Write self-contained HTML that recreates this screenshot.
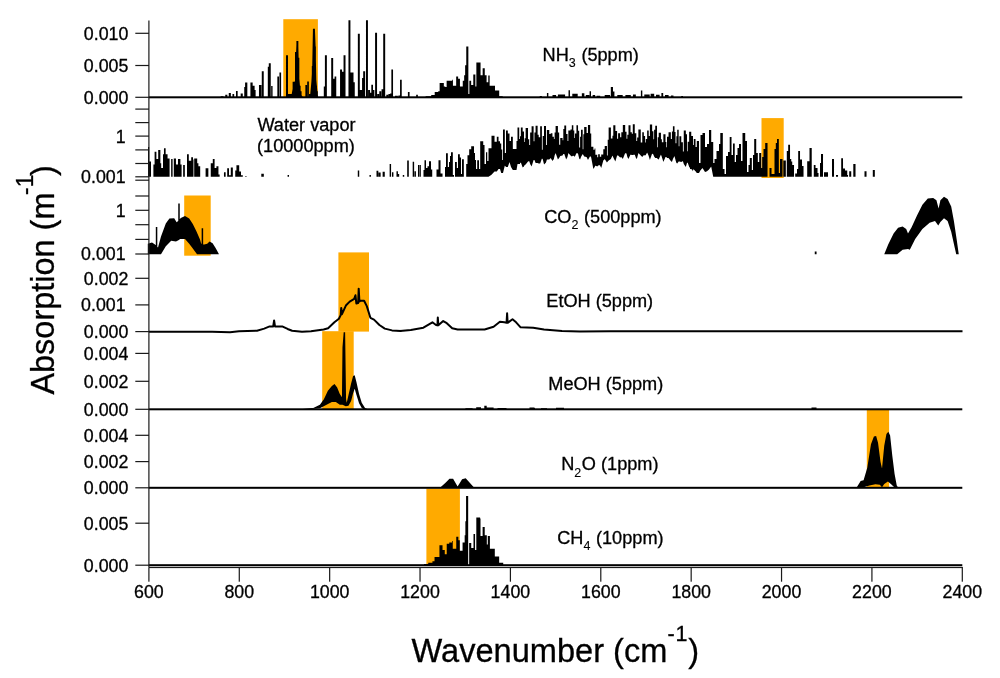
<!DOCTYPE html>
<html><head><meta charset="utf-8"><title>Absorption spectra</title>
<style>
html,body{margin:0;padding:0;background:#fff;}
svg{display:block;}
text{font-family:"Liberation Sans",Arial,sans-serif;fill:#000;stroke:#000;stroke-width:0.3px;}
</style></head><body>
<svg width="1000" height="678" viewBox="0 0 1000 678">
<rect width="1000" height="678" fill="#fff"/>
<rect x="283.3" y="19.2" width="34.6" height="78.3" fill="#FFAA00"/>
<rect x="761.5" y="118.1" width="22.2" height="59.9" fill="#FFAA00"/>
<rect x="184.2" y="195.5" width="26.5" height="60.2" fill="#FFAA00"/>
<rect x="338.4" y="252.4" width="30.6" height="79.2" fill="#FFAA00"/>
<rect x="322.2" y="331.2" width="31.5" height="78.0" fill="#FFAA00"/>
<rect x="866.8" y="410.0" width="22.3" height="78.0" fill="#FFAA00"/>
<rect x="426.4" y="488.5" width="33.5" height="75.8" fill="#FFAA00"/>
<path d="M220.70 97.30V96.21h2.80V97.30zM225.26 97.30V94.81h2.10V97.30zM228.76 97.30V92.99h2.10V97.30zM232.48 97.30V94.11h1.68V97.30zM235.98 97.30V90.89h1.68V97.30zM240.68 97.30V93.41h2.10V97.30zM245.09 97.30V82.62h2.24V97.30zM244.25 97.30V87.10h1.40V97.30zM250.42 97.30V82.62h2.24V97.30zM252.66 97.30V85.70h1.96V97.30zM254.49 97.30V89.91h1.12V97.30zM258.97 97.30V85.00h2.52V97.30zM261.78 97.30V71.26h1.96V97.30zM268.79 97.30V63.27h1.96V97.30zM267.80 97.30V66.78h1.12V97.30zM271.17 97.30V85.98h1.40V97.30zM277.34 97.30V76.59h1.68V97.30zM279.44 97.30V72.38h1.68V97.30zM286.03 97.30V55.14h1.96V97.30zM287.99 97.30V94.11h4.21V97.30zM292.62 97.30V81.78h1.96V97.30zM295.00 97.30V52.06h1.40V97.30zM296.40 97.30V41.12h1.96V97.30zM298.22 97.30V57.66h1.12V97.30zM299.21 97.30V85.70h1.40V97.30zM300.47 97.30V91.31h1.12V97.30zM305.37 97.30V85.00h1.68V97.30zM307.20 97.30V81.50h1.68V97.30zM309.02 97.30V94.11h2.80V97.30zM311.82 97.30V66.07h1.40V97.30zM312.94 97.30V28.64h1.96V97.30zM314.77 97.30V46.45h1.12V97.30zM315.89 97.30V85.70h1.12V97.30zM317.01 97.30V91.31h0.84V97.30zM291.21 97.30L291.21 96.64L293.46 84.30L295.42 80.09L296.12 52.06L296.54 41.12L298.22 41.12L298.64 57.66L299.21 77.29L300.05 86.82L301.31 94.53L302.71 96.92L302.71 97.30zM310.00 97.30L310.00 96.92L311.40 81.50L312.24 66.07L312.94 28.64L314.91 28.64L315.61 46.45L316.31 80.09L317.29 90.61L318.13 96.92L318.13 97.30zM323.79 97.30V86.40h1.40V97.30zM324.91 97.30V55.14h1.96V97.30zM331.21 97.30V58.08h1.96V97.30zM333.18 97.30V78.69h1.68V97.30zM334.58 97.30V76.59h1.68V97.30zM340.05 97.30V69.58h1.96V97.30zM342.01 97.30V71.68h1.68V97.30zM343.55 97.30V55.14h1.96V97.30zM348.46 97.30V20.23h1.96V97.30zM350.42 97.30V72.38h3.08V97.30zM353.36 97.30V82.20h1.40V97.30zM357.85 97.30V33.83h1.96V97.30zM359.81 97.30V89.91h2.24V97.30zM362.06 97.30V77.99h1.40V97.30zM363.18 97.30V71.26h1.96V97.30zM365.98 97.30V20.23h1.96V97.30zM368.08 97.30V89.91h1.96V97.30zM370.05 97.30V92.71h1.40V97.30zM371.31 97.30V84.72h1.68V97.30zM372.99 97.30V89.91h1.40V97.30zM375.09 97.30V32.71h1.96V97.30zM377.20 97.30V94.11h1.96V97.30zM379.30 97.30V91.31h1.96V97.30zM381.54 97.30V89.21h1.68V97.30zM383.22 97.30V33.83h1.96V97.30zM386.31 97.30V94.81h1.96V97.30zM388.41 97.30V94.11h1.96V97.30zM391.36 97.30V69.58h1.68V97.30zM390.09 97.30V93.41h1.40V97.30zM395.00 97.30V95.79h2.80V97.30zM400.05 97.30V79.67h1.68V97.30zM398.36 97.30V95.51h1.68V97.30zM407.90 97.30V92.01h1.68V97.30zM416.17 97.30V94.81h1.68V97.30zM425.61 97.30V96.21H431.21V95.09H434.72V92.01H438.22V91.31H439.63V82.90H441.73V82.90H443.83V86.40H445.23V87.10H446.64V80.79H452.24V79.67H452.94V85.70H455.75V85.70H456.17V76.59H457.85V76.59H458.13V78.69H459.67V78.69H459.95V86.40H462.06V86.40H462.76V80.79H464.16V75.19H465.14V65.37H466.26V46.45H467.94V46.45H468.36V94.11H469.35V80.79H470.75V80.79H471.17V85.00H472.99V85.00H473.27V74.49H474.95V74.49H475.37V86.40H476.36V62.57H480.28V62.57H480.56V75.19H482.38V75.19H482.66V68.18H484.49V68.18H484.77V75.19H486.17V75.19H486.59V82.20H487.99V82.20H488.27V75.47H489.39V75.47H489.67V85.70H493.60V85.70H495.00V90.61H498.50V90.61H499.21V96.21H502.71V97.30zM539.72 97.30V96.00h2.16V97.30zM546.92 97.30V92.94h1.44V97.30zM552.50 97.30V95.10h3.60V97.30zM557.90 97.30V94.56h7.20V97.30zM568.52 97.30V90.24h1.44V97.30zM572.30 97.30V93.84h5.40V97.30zM581.84 97.30V93.30h2.52V97.30zM585.80 97.30V95.10h3.60V97.30zM589.58 97.30V91.14h1.44V97.30zM592.64 97.30V95.10h2.52V97.30zM596.60 97.30V95.64h3.60V97.30zM604.70 97.30V95.10h5.40V97.30zM610.82 97.30V87.00h2.16V97.30zM611.90 97.30V91.50h2.52V97.30zM617.30 97.30V95.10h5.40V97.30zM625.40 97.30V95.10h5.40V97.30zM632.96 97.30V94.56h2.88V97.30zM640.88 97.30V90.60h1.44V97.30zM644.30 97.30V94.56h5.40V97.30zM650.60 97.30V93.84h3.60V97.30zM656.00 97.30V94.74h3.60V97.30zM661.40 97.30V92.94h1.80V97.30zM665.00 97.30V95.10h3.60V97.30zM670.94 97.30V95.46h2.52V97.30zM681.20 97.30V96.00h1.80V97.30zM148.00 176.80V147.00H149.20V161.40H151.00V176.80H153.40V164.40H154.60V151.80H156.40V159.00H158.20V150.00H160.36V163.20H161.20V168.00H163.00V154.20H163.96V148.20H165.64V154.20H167.56V158.40H169.60V176.80H171.16V159.00H172.60V176.80H173.80V158.40H175.96V164.40H178.00V159.00H180.40V164.40H181.60V176.80H183.16V165.00H184.84V176.80H187.00V154.20H188.80V160.80H191.20V157.20H193.00V159.60H193.48V176.80H194.20V158.40H197.20V163.20H198.40V166.20H200.20V176.80H205.60V168.24H208.36V176.80H210.76V163.20H212.80V159.00H214.60V168.00H216.40V166.20H218.44V174.60H219.64V176.80H223.96V172.20H225.64V176.80H227.20V168.24H229.00V175.20H230.80V167.40H232.84V176.80H235.24V170.40H236.44V165.36H239.20V171.60H241.00V175.20H242.80V176.80H245.32V175.92H246.52V176.80zM261.30 176.80V173.64h2.52V176.80zM287.58 176.80V174.90h1.44V176.80zM357.78 176.80V170.40h1.44V176.80zM369.48 176.80V174.90h1.44V176.80zM376.50 176.80V170.76h1.80V176.80zM378.48 176.80V172.56h2.16V176.80zM382.62 176.80V171.66h2.16V176.80zM389.64 176.80V164.10h1.44V176.80zM391.98 176.80V172.20h1.44V176.80zM396.48 176.80V171.30h1.44V176.80zM397.74 176.80V174.00h1.44V176.80zM402.78 176.80V174.90h1.44V176.80zM407.19 176.80V160.50h1.62V176.80zM412.68 176.80V161.76h1.44V176.80zM414.48 176.80V171.30h1.44V176.80zM417.99 176.80V165.00h1.62V176.80zM520.00 163.00V136.26H520.91V162.50zM520.86 162.50V127.59H522.67V167.50zM522.62 167.50V131.42H523.98V166.50zM523.93 166.50V142.01H524.70V165.00zM524.65 165.00V138.16H525.68V164.50zM525.63 164.50V128.06H528.03V161.50zM527.98 161.50V139.34H529.23V161.00zM529.18 161.00V145.07H530.18V164.00zM530.13 164.00V132.41H531.64V166.50zM531.59 166.50V126.29H533.62V160.00zM533.57 160.00V141.32H534.48V160.00zM534.43 160.00V132.47H535.62V163.00zM535.57 163.00V125.85H537.61V163.00zM537.56 163.00V134.77H538.71V163.50zM538.66 163.50V137.25H540.21V163.50zM540.16 163.50V126.29H541.90V158.50zM541.85 158.50V149.69H542.72V159.00zM542.67 159.00V135.95H544.06V164.50zM544.01 164.50V125.98H546.03V162.50zM545.98 162.50V144.93H546.94V159.50zM546.89 159.50V130.07H549.28V159.50zM549.23 159.50V133.91H550.75V158.00zM550.70 158.00V133.31H552.43V161.00zM552.38 161.00V136.75H553.90V159.00zM553.85 159.00V138.94H554.65V155.50zM554.60 155.50V132.38H555.65V153.00zM555.60 153.00V125.99H557.92V159.50zM557.87 159.50V132.38H559.17V158.00zM559.12 158.00V144.77H560.30V156.00zM560.25 156.00V138.08H562.59V155.50zM562.54 155.50V140.13H563.34V154.00zM563.29 154.00V128.99H564.35V154.00zM564.30 154.00V125.47H566.17V159.50zM566.12 159.50V133.93H567.53V157.00zM567.48 157.00V140.94H568.38V153.00zM568.33 153.00V130.42H570.56V155.50zM570.51 155.50V129.41H571.87V156.50zM571.82 156.50V125.29H573.33V155.50zM573.28 155.50V130.45H574.29V156.50zM574.24 156.50V138.05H574.99V156.50zM574.94 156.50V133.49H576.49V153.00zM576.44 153.00V125.20H578.04V153.50zM577.99 153.50V130.69H579.19V158.50zM579.14 158.50V147.53H580.14V159.50zM580.09 159.50V136.70H581.03V157.00zM580.98 157.00V129.77H582.69V154.00zM582.64 154.00V149.16H583.40V155.00zM583.35 155.00V134.36H584.22V156.50zM584.17 156.50V127.02H586.60V157.00zM586.55 157.00V132.90H588.02V160.00zM587.97 160.00V125.04H590.20V156.00zM590.15 156.00V133.55H591.22V157.50zM591.17 157.50V146.86H593.36V169.00zM593.31 169.00V149.83H594.68V167.00zM594.63 167.00V148.39H595.38V165.50zM595.33 165.50V154.64H597.23V166.50zM597.18 166.50V157.26H598.21V165.50zM598.16 165.50V154.34H599.82V165.00zM599.77 165.00V156.76H601.26V168.00zM601.21 168.00V154.58H603.32V160.50zM603.27 160.50V149.29H604.75V159.00zM604.70 159.00V145.95H606.95V162.50zM606.90 162.50V155.42H607.77V161.50zM607.72 161.50V139.75H608.69V160.50zM608.64 160.50V127.61H610.90V159.00zM610.85 159.00V138.56H612.52V155.50zM612.47 155.50V135.82H613.34V157.50zM613.29 157.50V125.18H615.38V161.50zM615.33 161.50V130.97H617.12V155.50zM617.07 155.50V138.80H618.15V155.50zM618.10 155.50V133.36H620.14V157.50zM620.09 157.50V137.27H621.36V157.00zM621.31 157.00V132.14H622.88V159.00zM622.83 159.00V125.10H625.20V153.00zM625.15 153.00V131.75H626.53V153.50zM626.48 153.50V138.87H627.36V157.00zM627.31 157.00V134.65H628.54V159.00zM628.49 159.00V125.24H630.50V154.50zM630.45 154.50V132.17H631.82V155.00zM631.77 155.00V133.65H632.84V155.00zM632.79 155.00V124.30H634.75V154.50zM634.70 154.50V133.17H636.31V159.00zM636.26 159.00V140.93H637.19V158.00zM637.14 158.00V137.58H638.42V153.00zM638.37 153.00V129.50H640.76V155.50zM640.71 155.50V142.57H642.31V157.00zM642.26 157.00V132.26H643.85V155.00zM643.80 155.00V136.03H645.09V155.50zM645.04 155.50V142.58H645.81V155.00zM645.76 155.00V139.08H647.19V152.50zM647.14 152.50V130.40H648.73V156.00zM648.68 156.00V135.96H649.92V160.00zM649.87 160.00V124.61H652.15V153.50zM652.10 153.50V131.24H653.38V154.50zM653.33 154.50V139.30H654.14V156.50zM654.09 156.50V129.71H655.29V158.00zM655.24 158.00V125.67H657.03V158.00zM656.98 158.00V147.21H657.75V159.00zM657.70 159.00V137.24H658.76V159.50zM658.71 159.50V132.76H660.94V154.50zM660.89 154.50V139.16H661.87V157.00zM661.82 157.00V142.32H663.40V162.00zM663.35 162.00V134.21H665.50V157.00zM665.45 157.00V141.88H666.36V157.00zM666.31 157.00V147.29H667.08V158.00zM667.03 158.00V136.65H668.57V158.00zM668.52 158.00V132.24H670.83V161.00zM670.78 161.00V139.11H671.97V162.00zM671.92 162.00V131.40H672.96V159.00zM672.91 159.00V126.18H674.52V156.00zM674.47 156.00V132.02H675.52V160.00zM675.47 160.00V143.22H676.45V163.00zM676.40 163.00V136.14H677.26V163.50zM677.21 163.50V129.67H678.68V161.50zM678.63 161.50V146.28H679.44V161.50zM679.39 161.50V136.19H681.27V162.00zM681.22 162.00V142.37H682.90V161.00zM682.85 161.00V151.61H683.81V164.00zM683.76 164.00V130.41H685.85V167.00zM685.80 167.00V134.27H686.99V163.00zM686.94 163.00V151.21H687.71V162.50zM687.66 162.50V141.70H689.19V167.00zM689.14 167.00V131.80H691.26V169.00zM691.21 169.00V136.70H692.30V170.00zM692.25 170.00V148.03H693.05V171.50zM690.00 169.00V136.00H693.03V169.30zM693.00 169.30V145.00H693.83V169.38zM693.80 169.38V139.00H695.53V171.25zM695.50 171.25V147.00H696.83V173.00zM696.80 173.00V141.00H699.03V173.00zM699.00 173.00V163.00H700.53V170.25zM700.50 170.25V135.00H702.53V167.88zM702.50 167.88V133.00H705.03V172.00zM705.00 172.00V147.00H707.03V171.33zM707.00 171.33V144.00H709.03V169.62zM709.00 169.62V130.00H711.23V166.60zM711.20 166.60V142.00H713.23V176.70zM713.20 176.70V163.00H714.53V176.70zM714.50 176.70V159.00H716.53V176.70zM716.50 176.70V151.00H719.03V176.70zM719.00 176.70V144.00H720.33V176.70zM720.30 176.70V133.00H722.83V176.70zM722.80 176.70V169.00H724.53V176.70zM724.50 176.70V174.00H726.03V176.70zM726.00 176.70V156.00H728.03V176.70zM728.00 176.70V152.00H729.73V176.70zM729.70 176.70V137.00H731.53V176.70zM731.50 176.70V155.00H733.03V176.70zM733.00 176.70V143.50H734.73V176.70zM734.70 176.70V162.00H736.03V176.70zM736.00 176.70V155.00H737.53V176.70zM737.50 176.70V148.00H739.03V176.70zM739.00 176.70V144.00H741.03V176.70zM741.00 176.70V161.00H742.53V176.70zM742.50 176.70V133.00H745.23V176.70zM745.20 176.70V141.00H747.03V176.70zM747.00 176.70V172.00H748.53V176.70zM748.50 176.70V165.00H749.83V176.70zM749.80 176.70V158.00H751.83V176.70zM751.80 176.70V170.00H753.03V176.70zM753.00 176.70V155.00H754.23V176.70zM754.20 176.70V139.00H756.23V176.70zM756.20 176.70V153.00H757.83V176.70zM757.80 176.70V162.00H759.23V176.70zM759.20 176.70V153.00H761.23V176.70zM761.20 176.70V168.00H762.23V176.70zM762.20 176.70V157.00H763.53V176.70zM763.50 176.70V149.00H765.23V176.70zM765.20 176.70V143.00H767.53V176.70zM769.50 176.70V168.00H771.53V176.70zM771.50 176.70V174.00H774.53V176.70zM774.50 176.70V149.00H775.83V176.70zM775.80 176.70V143.00H777.03V176.70zM777.00 176.70V139.00H778.83V176.70zM778.80 176.70V173.00H780.03V176.70zM780.00 176.70V159.00H782.53V176.70zM783.30 176.70V160.50H785.83V176.70zM786.80 176.70V151.00H788.23V176.70zM788.20 176.70V144.80H790.03V176.70zM790.00 176.70V159.00H791.23V176.70zM791.20 176.70V161.50H792.23V176.70zM792.20 176.70V165.00H794.03V176.70zM795.20 176.70V173.50H797.03V176.70zM797.00 176.70V169.00H798.23V176.70zM798.20 176.70V151.00H800.03V176.70zM800.00 176.70V159.50H802.03V176.70zM802.00 176.70V166.00H803.53V176.70zM807.20 176.70V161.20H809.53V176.70zM809.50 176.70V148.00H811.73V176.70zM813.80 176.70V165.00H815.53V176.70zM815.50 176.70V168.00H817.53V176.70zM817.50 176.70V173.00H818.53V176.70zM820.00 176.70V163.00H821.03V176.70zM821.00 176.70V154.00H823.03V176.70zM824.00 176.70V172.20H828.03V176.70zM832.00 176.70V159.00H834.03V176.70zM836.00 176.70V175.00H838.03V176.70zM841.20 176.70V158.20H843.03V176.70zM843.00 176.70V168.50H845.03V176.70zM845.00 176.70V170.50H847.23V176.70zM847.20 176.70V175.00H848.03V176.70zM849.20 176.70V171.20H851.23V176.70zM853.30 176.70V164.00H855.53V176.70zM864.50 176.70V171.20H866.53V176.70zM872.80 176.70V170.00H874.83V176.70zM420.00 176.70V165.00H420.83V176.70zM423.50 176.70V170.00H424.53V176.70zM424.50 176.70V160.20H426.03V176.70zM426.00 176.70V168.00H427.53V176.70zM427.50 176.70V166.20H429.03V176.70zM429.00 176.70V161.20H431.03V176.70zM431.00 176.70V169.50H432.23V176.70zM436.50 176.70V169.50H438.53V176.70zM438.50 176.70V160.20H440.53V176.70zM440.50 176.70V173.50H442.53V176.70zM445.00 176.70V167.00H446.03V176.70zM446.00 176.70V153.20H447.83V176.70zM447.80 176.70V167.00H449.03V176.70zM449.00 176.70V162.00H450.03V176.70zM450.00 176.70V156.00H451.03V176.70zM451.00 176.70V152.20H452.83V176.70zM452.80 176.70V175.00H454.03V176.70zM455.00 176.70V162.00H456.83V176.70zM456.80 176.70V168.00H458.03V176.70zM458.00 176.70V154.20H459.83V176.70zM459.80 176.70V157.50H461.03V176.70zM461.00 176.70V174.00H462.03V176.70zM462.00 176.70V159.20H463.83V176.70zM466.20 176.70V164.00H467.53V176.70zM467.50 176.70V155.20H469.23V176.70zM469.20 176.70V149.20H471.23V176.70zM471.20 176.70V146.20H474.03V176.70zM474.00 176.70V153.00H475.03V176.70zM475.00 176.70V160.00H476.03V176.70zM476.00 176.70V169.00H477.23V176.70zM477.20 176.70V160.20H479.03V176.70zM479.00 176.70V169.00H480.23V176.70zM480.20 176.70V141.20H483.23V176.70zM483.20 176.70V145.00H484.53V176.70zM484.50 176.70V164.00H486.03V176.70zM486.00 176.70V152.20H487.23V176.70zM487.20 176.70V161.00H488.53V176.70zM488.50 176.70V148.20H491.53V174.85zM491.50 174.85V135.80H494.53V171.50zM494.50 171.50V141.80H496.83V171.50zM496.80 171.50V136.80H498.53V169.00zM498.50 169.00V141.20H500.03V169.00zM500.00 169.00V143.50H501.23V173.00zM501.20 173.00V149.50H502.23V173.00zM502.20 173.00V160.00H503.03V173.00zM503.00 173.00V129.50H504.83V165.45zM504.80 165.45V153.00H506.03V167.00zM506.00 167.00V130.50H507.83V167.00zM507.80 167.00V133.50H509.53V162.00zM509.50 162.00V141.00H511.03V167.00zM511.00 167.00V136.80H512.83V170.00zM512.80 170.00V149.00H516.53V170.00zM516.50 170.00V141.00H517.53V164.00zM517.50 164.00V127.50H519.23V164.00zM519.20 164.00V139.00H520.03V164.00zM147.80 243.80L152.00 242.60L155.00 244.40L158.00 247.40L161.00 236.60L165.80 223.40L169.40 218.60L174.20 218.36L176.60 222.20L178.16 221.00L180.80 218.00L185.00 215.96L189.20 218.60L192.80 224.00L196.40 231.20L200.00 239.60L201.20 243.80L204.20 244.40L207.20 243.80L209.60 241.40L212.60 243.20L215.60 248.00L218.60 253.40L218.96 254.60L218.96 254.36L197.00 254.36L192.80 248.60L189.20 243.80L185.00 239.00L180.20 239.00L178.40 240.20L176.00 241.40L171.20 240.80L165.80 246.20L161.00 254.36L147.80 254.36zM155.81 248.60V227.00h1.5V248.60zM178.25 239.60V203.60h1.5V239.60zM201.65 246.20V228.20h1.5V246.20zM884.24 254.30L888.20 244.40L893.60 233.60L898.10 227.84L902.60 226.40L906.20 229.10L908.00 233.60L911.60 227.30L917.00 215.60L922.40 204.80L927.80 198.50L933.20 197.96L936.44 200.30L938.60 208.40L940.40 200.30L944.00 196.70L947.60 199.04L951.20 206.60L953.90 221.00L956.60 239.00L958.76 254.30L956.24 254.30L954.80 248.00L951.20 231.80L947.60 221.00L944.00 218.30L940.40 221.90L938.24 225.50L935.00 221.00L929.60 222.80L922.40 229.10L915.20 239.00L909.80 249.80L908.00 248.90L902.60 249.80L897.20 254.30L884.24 254.30zM814.76 254.30V251.60h1.80V254.30zM300.00 409.29L313.27 407.96L319.91 404.65L323.89 399.34L327.88 390.71L331.86 386.06L334.51 384.07L337.17 387.39L339.82 394.03L341.95 397.35L342.48 347.57L343.67 332.30L345.13 332.30L346.06 399.34L346.73 402.65L348.45 395.35L351.11 383.41L353.10 376.11L354.69 375.18L356.42 382.08L359.07 394.03L361.73 402.65L365.04 407.96L369.03 409.69L369.03 410.09L365.04 409.96L361.73 407.96L359.07 403.32L356.42 394.69L354.69 388.72L353.10 393.36L351.11 400.93L348.45 405.71L345.80 406.24L342.48 404.65L339.82 404.65L335.84 401.99L331.86 401.99L326.55 404.65L319.91 408.36L300.00 409.96zM465.40 409.30V408.20h7.20V409.30zM476.20 409.30V407.30h4.80V409.30zM484.30 409.30V405.80h2.40V409.30zM486.40 409.30V407.60h7.20V409.30zM497.50 409.30V408.05h9.00V409.30zM532.00 409.30V407.90h3.00V409.30zM541.00 409.30V408.20h6.00V409.30zM529.50 409.30V407.50h5.00V409.30zM556.00 409.30V407.80h8.00V409.30zM811.50 409.30V407.50h5.00V409.30zM440.50 487.80L440.50 487.16L445.00 483.20L449.50 478.70L453.10 478.70L457.60 486.44L462.10 479.24L465.70 478.16L469.30 482.30L473.80 487.16L473.80 487.80zM856.95 486.98L860.64 481.08L863.59 480.34L867.27 467.81L870.96 444.23L873.91 436.56L876.12 436.12L878.03 442.75L880.54 461.92L882.01 468.55L884.23 445.70L886.44 433.91L888.35 431.70L890.12 435.38L892.33 456.02L894.55 473.71L896.76 485.50L898.23 487.71L898.23 488.01L894.55 487.57L890.86 484.03L887.91 481.38L884.23 484.03L882.01 487.27L879.80 484.77L875.38 484.32L869.48 485.50L863.59 487.27L856.95 487.86zM424.02 565.20V564.11H428.22V562.71H432.43V561.31H434.53V557.10H438.74V557.10H439.44V545.19H441.96V545.19H442.52V550.09H444.35V550.09H444.77V554.30H446.17V554.30H446.73V543.79H449.25V542.38H452.06V540.98H452.76V548.69H455.56V548.69H456.26V536.78H457.94V536.78H458.36V540.28H459.35V540.28H459.77V550.79H461.87V550.79H462.57V542.38H463.97V542.38H464.67V535.37H465.37V521.36H466.07V496.12H467.76V496.12H468.18V565.20H469.16V543.08H470.98V543.08H471.26V547.99H473.08V547.99H473.50V533.97H474.77V533.97H475.05V550.09H475.89V550.09H476.31V517.57H480.09V518.55H480.51V536.07H482.20V536.07H482.62V526.96H484.30V526.96H484.72V535.37H486.40V535.37H486.82V544.49H487.80V536.07H489.63V536.07H489.91V548.69H494.11V548.69H494.81V556.40H498.60V556.40H499.16V562.71H502.52V562.71H503.22V565.20z" fill="#000"/>
<path d="M149.00 331.84L212.00 331.84L230.00 332.20L239.00 331.30L257.00 330.76L264.20 328.60L269.60 326.44L273.20 326.44L274.10 320.50L275.00 326.44L282.20 326.44L287.60 328.96L292.10 330.76L302.00 331.84L311.00 331.30L323.60 329.50L328.10 328.24L334.40 322.30L338.90 318.70L340.70 315.10L341.24 307.90L341.96 314.20L346.10 305.20L349.70 301.60L354.20 298.90L355.46 295.30L356.36 303.40L358.16 303.04L358.70 288.64L359.42 301.60L360.50 300.70L364.10 300.70L366.80 306.10L370.40 317.80L374.00 319.60L379.40 325.00L384.80 328.60L392.00 330.40L401.00 330.94L400.00 330.94L410.80 330.04L423.40 327.70L432.40 322.30L436.00 325.00L437.44 325.36L437.80 317.44L438.34 325.36L443.20 321.04L446.80 323.20L452.20 328.24L457.60 329.50L484.60 329.50L493.60 326.80L499.90 321.76L504.40 322.30L506.56 322.84L507.10 313.30L507.64 322.84L512.50 319.24L516.10 322.30L520.60 327.34L533.20 327.70L544.00 329.50L562.00 331.12L580.00 331.48L610.00 331.30L962.50 331.30" fill="none" stroke="#000" stroke-width="2" stroke-linejoin="round"/>
<rect x="148.9" y="96.30" width="813.4" height="2.0" fill="#000"/>
<rect x="148.9" y="408.30" width="813.4" height="2.0" fill="#000"/>
<rect x="148.9" y="486.80" width="813.4" height="2.0" fill="#000"/>
<rect x="148.9" y="564.20" width="813.4" height="2.0" fill="#000"/>
<rect x="148.3" y="20.5" width="1.2" height="547.0" fill="#1a1a1a"/>
<rect x="148.9" y="566.9" width="814.0" height="1.2" fill="#1a1a1a"/>
<rect x="135.3" y="32.70" width="13.7" height="1.2" fill="#1a1a1a"/>
<rect x="135.3" y="64.90" width="13.7" height="1.2" fill="#1a1a1a"/>
<rect x="135.3" y="96.70" width="13.7" height="1.2" fill="#1a1a1a"/>
<rect x="135.3" y="108.50" width="13.7" height="1.2" fill="#1a1a1a"/>
<rect x="135.3" y="122.00" width="13.7" height="1.2" fill="#1a1a1a"/>
<rect x="135.3" y="135.50" width="13.7" height="1.2" fill="#1a1a1a"/>
<rect x="135.3" y="149.30" width="13.7" height="1.2" fill="#1a1a1a"/>
<rect x="135.3" y="162.90" width="13.7" height="1.2" fill="#1a1a1a"/>
<rect x="135.3" y="176.20" width="13.7" height="1.2" fill="#1a1a1a"/>
<rect x="135.3" y="179.60" width="13.7" height="1.2" fill="#1a1a1a"/>
<rect x="135.3" y="195.40" width="13.7" height="1.2" fill="#1a1a1a"/>
<rect x="135.3" y="209.70" width="13.7" height="1.2" fill="#1a1a1a"/>
<rect x="135.3" y="224.10" width="13.7" height="1.2" fill="#1a1a1a"/>
<rect x="135.3" y="238.80" width="13.7" height="1.2" fill="#1a1a1a"/>
<rect x="135.3" y="253.40" width="13.7" height="1.2" fill="#1a1a1a"/>
<rect x="135.3" y="277.70" width="13.7" height="1.2" fill="#1a1a1a"/>
<rect x="135.3" y="304.30" width="13.7" height="1.2" fill="#1a1a1a"/>
<rect x="135.3" y="331.00" width="13.7" height="1.2" fill="#1a1a1a"/>
<rect x="135.3" y="352.80" width="13.7" height="1.2" fill="#1a1a1a"/>
<rect x="135.3" y="380.70" width="13.7" height="1.2" fill="#1a1a1a"/>
<rect x="135.3" y="408.70" width="13.7" height="1.2" fill="#1a1a1a"/>
<rect x="135.3" y="434.70" width="13.7" height="1.2" fill="#1a1a1a"/>
<rect x="135.3" y="461.00" width="13.7" height="1.2" fill="#1a1a1a"/>
<rect x="135.3" y="487.20" width="13.7" height="1.2" fill="#1a1a1a"/>
<rect x="135.3" y="522.60" width="13.7" height="1.2" fill="#1a1a1a"/>
<rect x="135.3" y="564.60" width="13.7" height="1.2" fill="#1a1a1a"/>
<rect x="148.30" y="567.5" width="1.2" height="14.2" fill="#1a1a1a"/>
<rect x="238.68" y="567.5" width="1.2" height="14.2" fill="#1a1a1a"/>
<rect x="329.06" y="567.5" width="1.2" height="14.2" fill="#1a1a1a"/>
<rect x="419.43" y="567.5" width="1.2" height="14.2" fill="#1a1a1a"/>
<rect x="509.81" y="567.5" width="1.2" height="14.2" fill="#1a1a1a"/>
<rect x="600.19" y="567.5" width="1.2" height="14.2" fill="#1a1a1a"/>
<rect x="690.57" y="567.5" width="1.2" height="14.2" fill="#1a1a1a"/>
<rect x="780.94" y="567.5" width="1.2" height="14.2" fill="#1a1a1a"/>
<rect x="871.32" y="567.5" width="1.2" height="14.2" fill="#1a1a1a"/>
<rect x="961.70" y="567.5" width="1.2" height="14.2" fill="#1a1a1a"/>
<text x="128.3" y="39.699999999999996" font-size="17.8" text-anchor="end" >0.010</text>
<text x="128.3" y="71.9" font-size="17.8" text-anchor="end" >0.005</text>
<text x="128.3" y="103.7" font-size="17.8" text-anchor="end" >0.000</text>
<text x="125.6" y="142.5" font-size="17.8" text-anchor="end" >1</text>
<text x="125.6" y="183.20000000000002" font-size="17.8" text-anchor="end" >0.001</text>
<text x="125.6" y="216.70000000000002" font-size="17.8" text-anchor="end" >1</text>
<text x="125.6" y="260.4" font-size="17.8" text-anchor="end" >0.001</text>
<text x="128.3" y="284.7" font-size="17.8" text-anchor="end" >0.002</text>
<text x="125.6" y="311.29999999999995" font-size="17.8" text-anchor="end" >0.001</text>
<text x="128.3" y="338.0" font-size="17.8" text-anchor="end" >0.000</text>
<text x="128.3" y="359.79999999999995" font-size="17.8" text-anchor="end" >0.004</text>
<text x="128.3" y="387.7" font-size="17.8" text-anchor="end" >0.002</text>
<text x="128.3" y="415.7" font-size="17.8" text-anchor="end" >0.000</text>
<text x="128.3" y="441.7" font-size="17.8" text-anchor="end" >0.004</text>
<text x="128.3" y="468.0" font-size="17.8" text-anchor="end" >0.002</text>
<text x="128.3" y="494.2" font-size="17.8" text-anchor="end" >0.000</text>
<text x="128.3" y="529.6" font-size="17.8" text-anchor="end" >0.005</text>
<text x="128.3" y="571.6" font-size="17.8" text-anchor="end" >0.000</text>
<text x="148.9" y="598" font-size="17.8" text-anchor="middle" >600</text>
<text x="239.3" y="598" font-size="17.8" text-anchor="middle" >800</text>
<text x="329.7" y="598" font-size="17.8" text-anchor="middle" >1000</text>
<text x="420.0" y="598" font-size="17.8" text-anchor="middle" >1200</text>
<text x="510.4" y="598" font-size="17.8" text-anchor="middle" >1400</text>
<text x="600.8" y="598" font-size="17.8" text-anchor="middle" >1600</text>
<text x="691.2" y="598" font-size="17.8" text-anchor="middle" >1800</text>
<text x="781.5" y="598" font-size="17.8" text-anchor="middle" >2000</text>
<text x="871.9" y="598" font-size="17.8" text-anchor="middle" >2200</text>
<text x="962.3" y="598" font-size="17.8" text-anchor="middle" >2400</text>
<text x="542.6" y="60.7" font-size="18.15" text-anchor="start" >NH<tspan dy="6.6" font-size="12.5" stroke-width="0.1">3</tspan><tspan dy="-6.6" dx="0.6"> (5ppm)</tspan></text>
<text x="257.4" y="131.2" font-size="18.15" text-anchor="start" >Water vapor</text>
<text x="257.0" y="152" font-size="18.15" text-anchor="start" >(10000ppm)</text>
<text x="544.2" y="222.7" font-size="18.15" text-anchor="start" >CO<tspan dy="6.6" font-size="12.5" stroke-width="0.1">2</tspan><tspan dy="-6.6" dx="0.6"> (500ppm)</tspan></text>
<text x="546.3" y="306.6" font-size="18.15" text-anchor="start" >EtOH (5ppm)</text>
<text x="548.3" y="390" font-size="18.15" text-anchor="start" >MeOH (5ppm)</text>
<text x="561.2" y="470.4" font-size="18.15" text-anchor="start" >N<tspan dy="6.6" font-size="12.5" stroke-width="0.1">2</tspan><tspan dy="-6.6" dx="0.6">O (1ppm)</tspan></text>
<text x="557.2" y="543.8" font-size="18.15" text-anchor="start" >CH<tspan dy="6.6" font-size="12.5" stroke-width="0.1">4</tspan><tspan dy="-6.6" dx="0.6"> (10ppm)</tspan></text>
<text x="411.5" y="662.2" font-size="32.6">Wavenumber (cm<tspan x="667.6" dy="-21.5" font-size="21.5">-</tspan><tspan x="675.6" font-size="21.5">1</tspan><tspan x="688.2" dy="21.5">)</tspan></text>
<text transform="translate(54,394.6) rotate(-90) scale(0.955,1)" font-size="34">Absorption (m<tspan dy="-21" dx="-2.5" font-size="24">-1</tspan><tspan dy="21" dx="-1.5">)</tspan></text>
</svg>
</body></html>
